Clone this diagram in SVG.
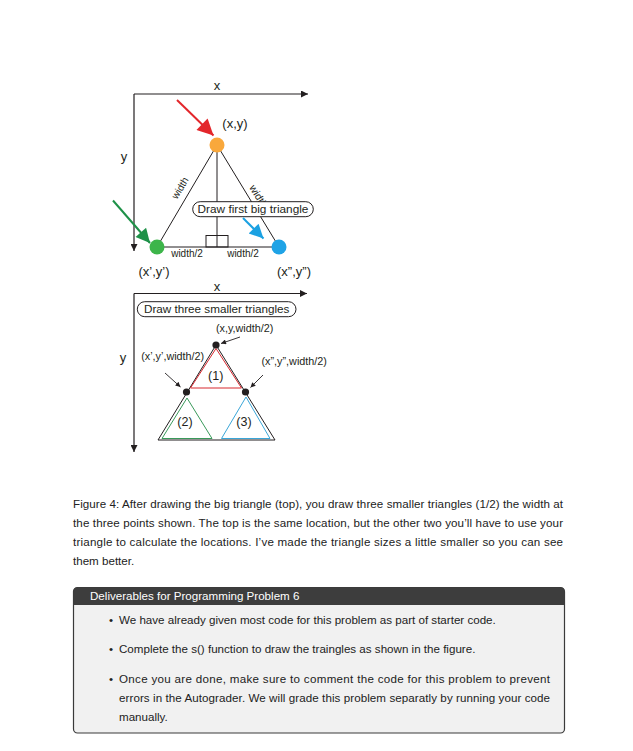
<svg xmlns="http://www.w3.org/2000/svg" width="633" height="751" viewBox="0 0 633 751">
<style>
.f{font-family:"Liberation Sans",Arial,sans-serif;fill:#231f20}
.ax{stroke:#231f20;stroke-width:1.2;fill:none}
.ln{stroke:#231f20;stroke-width:1;fill:none}
.box{fill:#fff;stroke:#231f20;stroke-width:1}
.cap{font-family:"Liberation Sans",Arial,sans-serif;font-size:11.6px;fill:#222}
</style>
<defs>
<marker id="ah" viewBox="0 0 10 10" refX="10" refY="5" markerWidth="8" markerHeight="7" markerUnits="userSpaceOnUse" orient="auto"><path d="M0,0 L10,5 L0,10 Z" fill="#231f20"/></marker>
<marker id="ahs" viewBox="0 0 10 10" refX="10" refY="5" markerWidth="6" markerHeight="5" markerUnits="userSpaceOnUse" orient="auto"><path d="M0,0 L10,5 L0,10 Z" fill="#231f20"/></marker>
<marker id="ahr" viewBox="0 0 10 10" refX="10" refY="5" markerWidth="18" markerHeight="16" markerUnits="userSpaceOnUse" orient="auto"><path d="M0,0 L10,5 L0,10 Z" fill="#e3262b"/></marker>
<marker id="ahg" viewBox="0 0 10 10" refX="10" refY="5" markerWidth="16" markerHeight="14" markerUnits="userSpaceOnUse" orient="auto"><path d="M0,0 L10,5 L0,10 Z" fill="#1e9148"/></marker>
<marker id="ahb" viewBox="0 0 10 10" refX="10" refY="5" markerWidth="16" markerHeight="14" markerUnits="userSpaceOnUse" orient="auto"><path d="M0,0 L10,5 L0,10 Z" fill="#1ba1e2"/></marker>
</defs>

<!-- Top diagram -->
<g id="top-axes">
<path class="ax" d="M134,94 L308,94" marker-end="url(#ah)"/>
<path class="ax" d="M134,94 L134,251" marker-end="url(#ah)"/>
<text class="f" x="217" y="89.5" font-size="13" text-anchor="middle">x</text>
<text class="f" x="124" y="161" font-size="13" text-anchor="middle">y</text>
</g>

<g id="big-triangle">
<path class="ln" d="M217,145 L157,247 L279,247 Z"/>
<path class="ln" d="M217,145 L217,247"/>
<rect class="ln" x="206" y="235.5" width="22" height="11.5"/>
<text class="f" font-size="10" text-anchor="middle" transform="translate(180,188) rotate(-59.5)" dy="0.35em">width</text>
<text class="f" font-size="10.5" text-anchor="middle" transform="translate(258.5,196) rotate(59)" dy="0.35em">width</text>
<text class="f" x="187" y="256.5" font-size="10" text-anchor="middle">width/2</text>
<text class="f" x="243" y="256.5" font-size="10" text-anchor="middle">width/2</text>
</g>

<g id="node-top">
<circle cx="217" cy="145" r="7.5" fill="#f9a83c"/>
<text class="f" x="235" y="127.5" font-size="13" text-anchor="middle">(x,y)</text>
</g>
<g id="node-left">
<circle cx="157" cy="247" r="7.5" fill="#3db54a"/>
<text class="f" x="154" y="276" font-size="13" text-anchor="middle">(x’,y’)</text>
</g>
<g id="node-right">
<circle cx="279" cy="247" r="7.5" fill="#1fa3e6"/>
<text class="f" x="294" y="276" font-size="13" text-anchor="middle">(x”,y”)</text>
</g>

<g id="label-first">
<rect class="box" x="192.7" y="201.7" width="120.6" height="15" rx="7.5"/>
<text class="f" x="253" y="213.2" font-size="11.8" text-anchor="middle">Draw first big triangle</text>
</g>

<g id="connectors-top">
<line x1="177" y1="100" x2="213.5" y2="135.5" stroke="#e3262b" stroke-width="2" marker-end="url(#ahr)"/>
<line x1="113" y1="200.5" x2="150" y2="243" stroke="#1e9148" stroke-width="2" marker-end="url(#ahg)"/>
<line x1="243" y1="218" x2="263.5" y2="238.5" stroke="#1ba1e2" stroke-width="2" marker-end="url(#ahb)"/>
</g>

<!-- Bottom diagram -->
<g id="bottom-axes">
<path class="ax" d="M134,293.5 L307,293.5" marker-end="url(#ah)"/>
<path class="ax" d="M134,293.5 L134,452" marker-end="url(#ah)"/>
<text class="f" x="217" y="291" font-size="13" text-anchor="middle">x</text>
<text class="f" x="123" y="362" font-size="13" text-anchor="middle">y</text>
</g>

<g id="label-three">
<rect class="box" x="137.3" y="301.7" width="158.7" height="15" rx="7.5"/>
<text class="f" x="216.7" y="313.2" font-size="11.7" text-anchor="middle">Draw three smaller triangles</text>
</g>

<g id="outer-triangle">
<path class="ln" d="M216,345 L158,440 L275,440 Z"/>
</g>
<g id="tri-1">
<path d="M216,348.5 L190.5,388 L241.5,388 Z" fill="none" stroke="#d7282f" stroke-width="1"/>
<text class="f" x="215.7" y="379.5" font-size="12.5" text-anchor="middle">(1)</text>
</g>
<g id="tri-2">
<path d="M187,398 L162,438.5 L212,438.5 Z" fill="none" stroke="#3a9a5b" stroke-width="1"/>
<text class="f" x="185" y="426" font-size="12.5" text-anchor="middle">(2)</text>
</g>
<g id="tri-3">
<path d="M246,397 L221.5,438.5 L270,438.5 Z" fill="none" stroke="#3aa6d8" stroke-width="1"/>
<text class="f" x="244" y="426" font-size="12.5" text-anchor="middle">(3)</text>
</g>

<g id="point-top">
<circle cx="216" cy="345" r="3.6" fill="#231f20"/>
<text class="f" x="244.7" y="332" font-size="10.8" text-anchor="middle">(x,y,width/2)</text>
</g>
<g id="point-left">
<circle cx="186.5" cy="392" r="3.6" fill="#231f20"/>
<text class="f" x="172.7" y="359.5" font-size="10.8" text-anchor="middle">(x’,y’,width/2)</text>
</g>
<g id="point-right">
<circle cx="245.5" cy="392" r="3.6" fill="#231f20"/>
<text class="f" x="294.2" y="365" font-size="10.8" text-anchor="middle">(x”,y”,width/2)</text>
</g>

<g id="connectors-bottom">
<line x1="240" y1="337" x2="221" y2="343.5" stroke="#231f20" stroke-width="0.9" marker-end="url(#ahs)"/>
<line x1="165" y1="373" x2="180.5" y2="387" stroke="#231f20" stroke-width="0.9" marker-end="url(#ahs)"/>
<line x1="263" y1="375" x2="250.5" y2="387.5" stroke="#231f20" stroke-width="0.9" marker-end="url(#ahs)"/>
</g>

<!-- Caption -->
<g id="caption">
<text class="cap" x="73" y="508" textLength="490" lengthAdjust="spacing">Figure 4: After drawing the big triangle (top), you draw three smaller triangles (1/2) the width at</text>
<text class="cap" x="73" y="527" textLength="490" lengthAdjust="spacing">the three points shown. The top is the same location, but the other two you’ll have to use your</text>
<text class="cap" x="73" y="546" textLength="490" lengthAdjust="spacing">triangle to calculate the locations. I’ve made the triangle sizes a little smaller so you can see</text>
<text class="cap" x="73" y="565">them better.</text>
</g>

<!-- Deliverables box -->
<g id="deliverables">
<rect x="73.5" y="587.5" width="491" height="145.5" rx="4" fill="#f1f1f1" stroke="#3a3a3a" stroke-width="1.2"/>
<path d="M73.5,605 L73.5,591.5 Q73.5,587.5 77.5,587.5 L560.5,587.5 Q564.5,587.5 564.5,591.5 L564.5,605 Z" fill="#3d3d3d"/>
<text class="cap" x="90" y="600" style="fill:#fff">Deliverables for Programming Problem 6</text>
<text class="cap" x="109" y="624">•</text>
<text class="cap" x="119" y="624">We have already given most code for this problem as part of starter code.</text>
<text class="cap" x="109" y="653">•</text>
<text class="cap" x="119" y="653">Complete the s() function to draw the traingles as shown in the figure.</text>
<text class="cap" x="109" y="683">•</text>
<text class="cap" x="119" y="683" textLength="431" lengthAdjust="spacing">Once you are done, make sure to comment the code for this problem to prevent</text>
<text class="cap" x="119" y="702" textLength="431" lengthAdjust="spacing">errors in the Autograder. We will grade this problem separatly by running your code</text>
<text class="cap" x="119" y="721">manually.</text>
</g>
</svg>
